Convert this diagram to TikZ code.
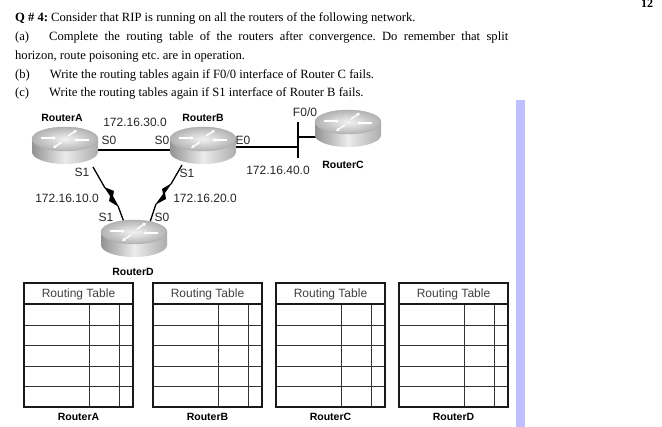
\documentclass[tikz,border=0pt]{standalone}
\usepackage{fontspec}
\setmainfont{Liberation Serif}
\newfontfamily\arial{Liberation Sans}
\usetikzlibrary{arrows.meta}
\frenchspacing
\tikzset{
  lbl/.style={font=\arial\fontsize{12}{13}\selectfont, inner sep=0pt, text=black!85},
  rname/.style={font=\arial\bfseries\fontsize{10.5}{12}\selectfont, inner sep=0pt},
  link/.style={line width=1.3pt, black},
  tline/.style={line width=1.6pt, black!90},
  thin/.style={line width=0.6pt, black!80},
  qtext/.style={font=\fontsize{12.6}{14}\selectfont, inner sep=0pt, anchor=west},
  router/.pic={
    \shade[left color=gray!85, right color=gray!65, middle color=gray!15]
      (-33,0) -- (-33,13) arc[start angle=180,end angle=0,x radius=33,y radius=12] -- (33,0) -- cycle;
    \shade[inner color=gray!10, outer color=gray!60] (0,0) ellipse[x radius=33,y radius=12];
    \draw[gray!65,line width=0.4pt] (0,0) ellipse[x radius=33,y radius=12];
    \draw[white,line width=1.4pt,-{Latex[length=3pt,width=4pt]}] (-24,-1) -- (-9,-1);
    \draw[white,line width=1.4pt,-{Latex[length=3pt,width=4pt]}] (24,1) -- (9,1);
    \draw[white,line width=1.4pt,-{Latex[length=3pt,width=4pt]}] (3,-3) -- (12,-9);
    \draw[white,line width=1.4pt,-{Latex[length=3pt,width=4pt]}] (-3,3) -- (-12,9);
  }
}
\begin{document}
\begin{tikzpicture}[x=1pt,y=-1pt]
\useasboundingbox (0,0) rectangle (662,427);
\fill[white] (0,0) rectangle (662,427);
% blue bar
\fill[blue!25] (516,100) rectangle (525,427);
% header text
\node[font=\bfseries\fontsize{12}{13}\selectfont, inner sep=0pt, anchor=west] (pg) at (641,4) {12};
\node[qtext] (q1) at (15,18) {\textbf{Q \# 4:} Consider that RIP is running on all the routers of the following network.};
\node[qtext] (q2) at (15,37) {\makebox[493pt][s]{(a)\hspace{20pt}Complete the routing table of the routers after convergence. Do remember that split}};
\node[qtext] (q3) at (15,56) {horizon, route poisoning etc. are in operation.};
\node[qtext] (q4) at (15,75) {(b)\hspace{20pt}Write the routing tables again if F0/0 interface of Router C fails.};
\node[qtext] (q5) at (15,93) {(c)\hspace{20pt}Write the routing tables again if S1 interface of Router B fails.};
% anchor coordinates
\coordinate (A) at (65,139);
\coordinate (B) at (203,139);
\coordinate (C) at (348,122);
\coordinate (D) at (134,232);
\coordinate (bt) at (298,122);
\coordinate (bb) at (298,158);
\coordinate (be) at (298,147);
\coordinate (bc) at (298,137);
% links
\draw[link] (98,150) -- (172,150);
\draw[link] (235,147) -- (be);
\draw[line width=2pt] (bt) -- (bb);
\draw[link] (bc) -- (316,137);
\draw[link] (93,167) -- (105,188);
\fill (104,187) -- (114,191) -- (113,196) -- (119,207) -- (109,201) -- (110,196) -- cycle;
\draw[link] (118,206) -- (124,222);
\draw[link] (182,165) -- (171,184);
\fill (172,183) -- (162,189) -- (163,194) -- (155,205) -- (166,199) -- (165,193) -- cycle;
\draw[link] (156,204) -- (150,222);
% routers
\pic at (A) {router};
\pic at (B) {router};
\pic at (C) {router};
\pic at (D) {router};
% labels
\node[rname] (la) at (62,118) {RouterA};
\node[rname] (lb) at (203,118) {RouterB};
\node[rname] (lc) at (343,165) {RouterC};
\node[rname] (ld) at (133,272) {RouterD};
\node[lbl] (n30) at (135,122) {172.16.30.0};
\node[lbl] (n40) at (278,170) {172.16.40.0};
\node[lbl] (n10) at (67,198) {172.16.10.0};
\node[lbl] (n20) at (205,198) {172.16.20.0};
\node[lbl] (s0a) at (109,140) {S0};
\node[lbl] (s0b) at (162,140) {S0};
\node[lbl] (e0) at (243,140) {E0};
\node[lbl] (f00) at (305,112) {F0/0};
\node[lbl] (s1a) at (82,172) {S1};
\node[lbl] (s1b) at (187,173) {S1};
\node[lbl] (s1d) at (106,217) {S1};
\node[lbl] (s0d) at (162,217) {S0};
% tables
\foreach \x/\n in {24/A,153/B,276/C,399/D}{
  \foreach \r in {325,345,366,386}{
    \draw[thin] (\x,\r) -- (\x+109,\r);
  }
  \draw[thin] (\x+65,304) -- (\x+65,407);
  \draw[thin] (\x+95,304) -- (\x+95,407);
  \draw[tline] (\x,304) -- (\x+109,304);
  \draw[tline] (\x,283) rectangle (\x+109,407);
  \node[font=\arial\fontsize{12}{13}\selectfont, text=black!75, inner sep=0pt] (rt\n) at (\x+54.5,294) {Routing Table};
  \node[rname] (tl\n) at (\x+54.5,417) {Router\n};
}
\end{tikzpicture}
\end{document}
